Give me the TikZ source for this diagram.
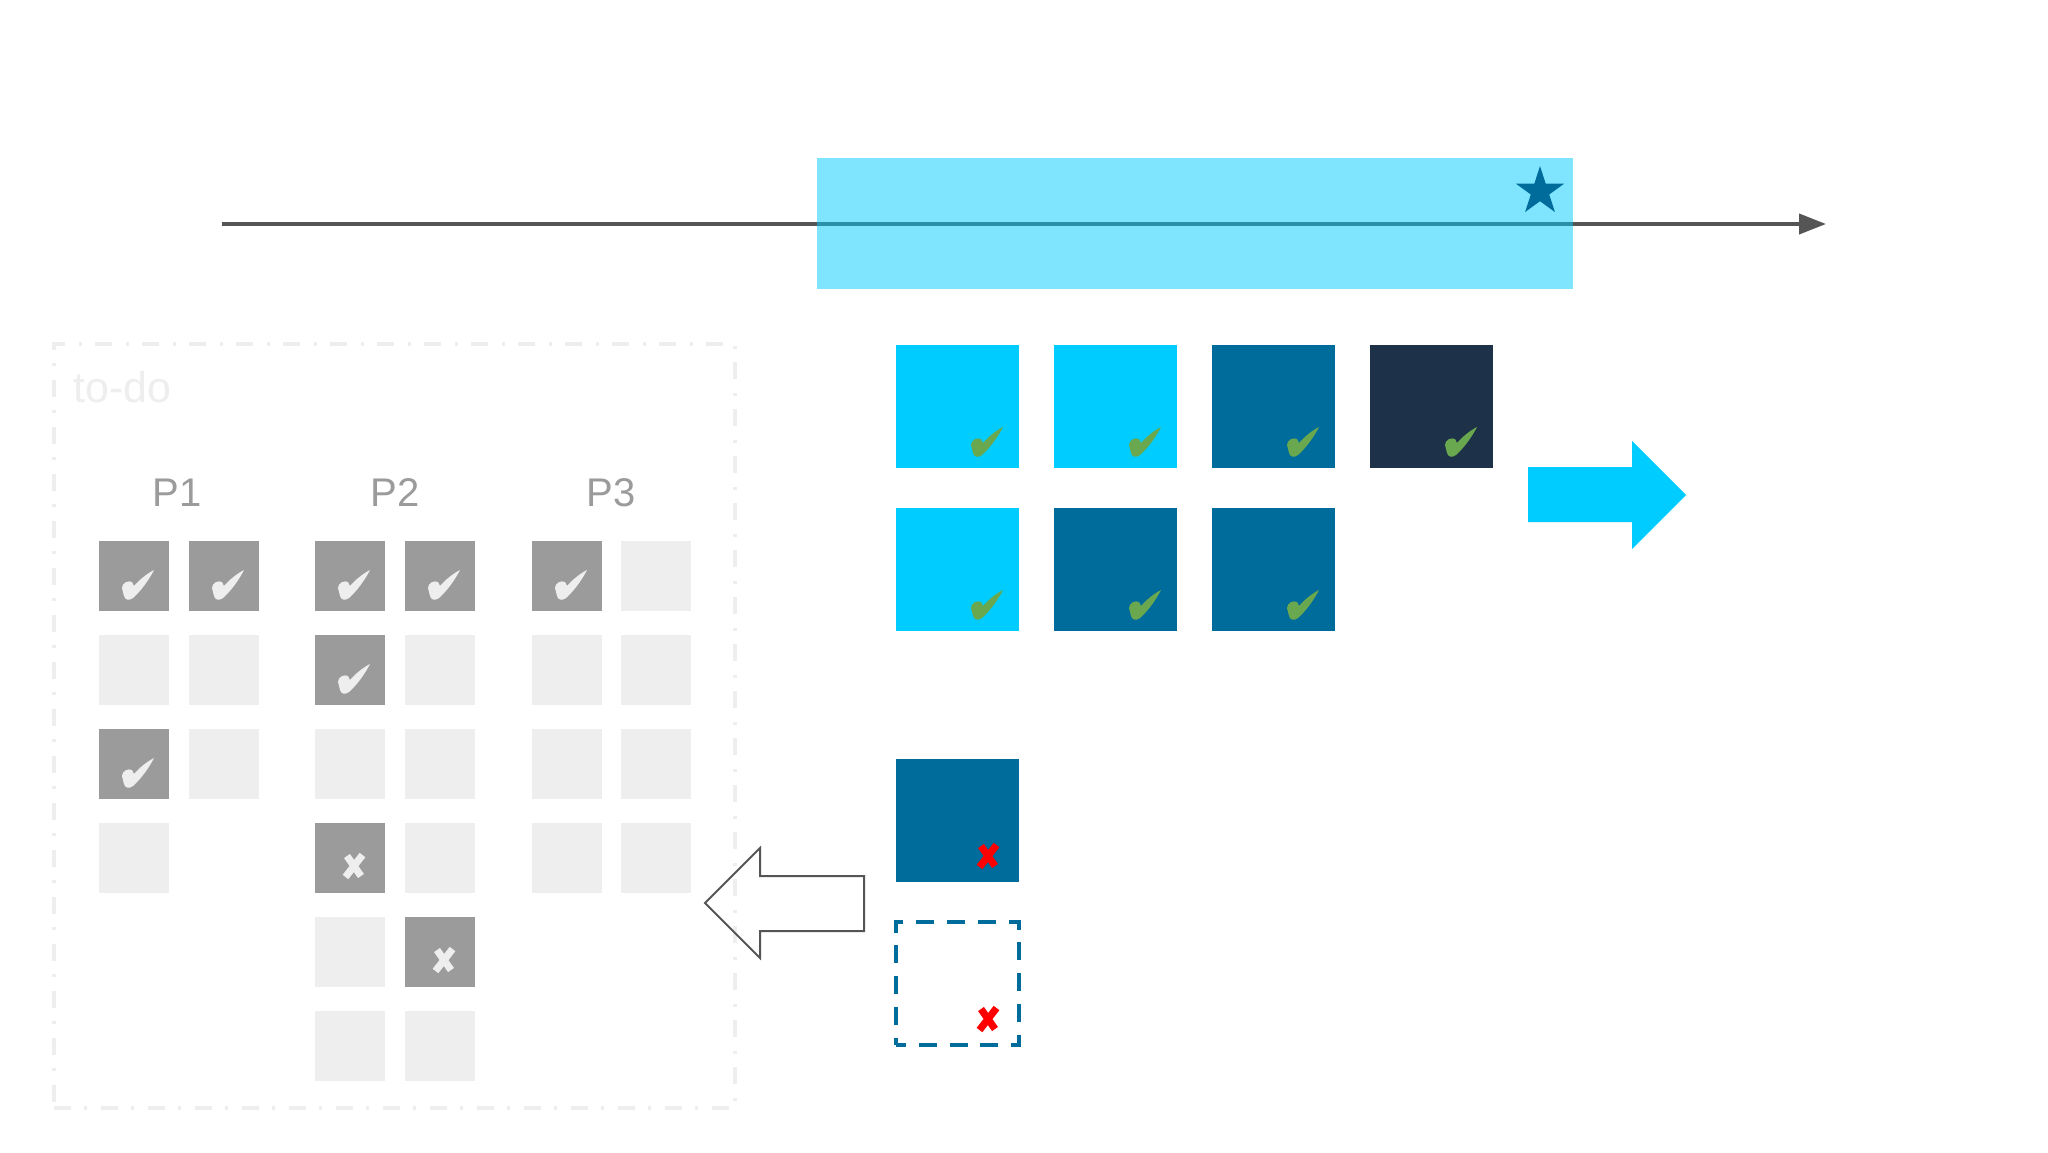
\documentclass[tikz,border=0pt]{standalone}
\usepackage{fontspec}
\setmainfont{Liberation Sans}
\usetikzlibrary{arrows.meta,shapes.geometric}
\definecolor{bright}{HTML}{00CCFF}
\definecolor{midblue}{HTML}{006C9B}
\definecolor{navy}{HTML}{1D3148}
\definecolor{okgreen}{HTML}{6AA84F}
\definecolor{axisgrey}{HTML}{555555}
\definecolor{doneg}{HTML}{9B9B9B}
\definecolor{emptyg}{HTML}{EEEEEE}
\definecolor{errred}{HTML}{FF0000}
\tikzset{
  x=0.5pt,y=-0.5pt,
  bigbox/.style={rectangle,minimum size=61.5pt,inner sep=0pt,outer sep=0pt,anchor=north west,fill=#1},
  smallbox/.style={rectangle,minimum size=35pt,inner sep=0pt,outer sep=0pt,anchor=north west,fill=#1},
  lab/.style={font=\fontsize{20}{24}\selectfont,inner sep=0pt,anchor=base},
  pics/chk/.style={code={
    \fill[#1] (0,18) .. controls (0,13) and (6,10) .. (10,12) .. controls (11,13) and (11,15) .. (12,16)
      .. controls (18,9) and (26,3) .. (32,0)
      .. controls (28,8) and (20,20) .. (11,28) .. controls (7,31) and (3,30) .. (2,26) -- cycle;
  }},
  pics/crs/.style={code={
    \draw[#1,line width=3.6pt] (-8.5,11) -- (8.5,-11) (-7,-10) -- (7,10);
  }}
}
\newcommand{\bigsq}[5]{% name x y colour mark
  \node[bigbox=#4] (#1) at (#2,#3) {};
  \ifx#5c\pic at (#2+75,#3+82) {chk=okgreen};\fi
  \ifx#5x\pic at (#2+92,#3+97) {crs=errred};\fi
}
\newcommand{\smsq}[5]{%
  \node[smallbox=#4] (#1) at (#2,#3) {};
  \ifx#5c\pic at (#2+23,#3+29) {chk=emptyg};\fi
  \ifx#5x\pic at (#2+39,#3+43) {crs=emptyg};\fi
}
\begin{document}
\begin{tikzpicture}
\useasboundingbox[fill=white] (0,0) rectangle (2048,1152);
% timeline
\coordinate (tlstart) at (222,224);
\coordinate (tlend) at (1826,224);
\draw[axisgrey,line width=2pt,-{Triangle[length=13.5pt,width=10pt]}] (tlstart) -- (tlend);
\node[rectangle,anchor=north west,inner sep=0pt,outer sep=0pt,minimum width=378pt,minimum height=65.5pt,fill=bright,fill opacity=.5] (band) at (817,158) {};
\node[star,star points=5,star point ratio=2.618,minimum size=25.4pt,inner sep=0pt,fill=midblue] (goal) at (1540,191.5) {};
% done items
\bigsq{a1}{896}{345}{bright}{c}
\bigsq{a2}{1054}{345}{bright}{c}
\bigsq{a3}{1212}{345}{midblue}{c}
\bigsq{a4}{1370}{345}{navy}{c}
\bigsq{b1}{896}{508}{bright}{c}
\bigsq{b2}{1054}{508}{midblue}{c}
\bigsq{b3}{1212}{508}{midblue}{c}
% right arrow
\fill[bright] (1528,467) -- (1632,467) -- (1632,441) -- (1686,495) -- (1632,549) -- (1632,522) -- (1528,522) -- cycle;
% rejected
\bigsq{r1}{896}{759}{midblue}{x}
\node[rectangle,minimum size=61.5pt,inner sep=0pt,outer sep=0pt,anchor=north west,draw=midblue,line width=2pt,dash pattern=on 9pt off 6.4pt,dash phase=4pt] (r2) at (896,922) {};
\pic at (988,1019) {crs=errred};
% todo panel
\node[rectangle,anchor=north west,inner sep=0pt,outer sep=0pt,minimum width=340.5pt,minimum height=382pt,draw=emptyg,line width=2pt,dash pattern=on 8.5pt off 6.5pt on 1.5pt off 7pt] (todo) at (54,344) {};
\node[lab,anchor=base west,text=emptyg,font=\fontsize{21.5}{24}\selectfont] (todolab) at (73,402) {to-do};
\node[lab,text=doneg] (p1) at (177,506) {P1};
\node[lab,text=doneg] (p2) at (395,506) {P2};
\node[lab,text=doneg] (p3) at (611,506) {P3};
% left arrow
\draw[axisgrey,line width=1pt,line join=miter] (864,876) -- (760,876) -- (760,848) -- (705,903) -- (760,958) -- (760,931) -- (864,931) -- cycle;
% P1
\smsq{s11}{99}{541}{doneg}{c}
\smsq{s12}{99}{635}{emptyg}{n}
\smsq{s13}{99}{729}{doneg}{c}
\smsq{s14}{99}{823}{emptyg}{n}
\smsq{s21}{189}{541}{doneg}{c}
\smsq{s22}{189}{635}{emptyg}{n}
\smsq{s23}{189}{729}{emptyg}{n}
% P2
\smsq{s31}{315}{541}{doneg}{c}
\smsq{s32}{315}{635}{doneg}{c}
\smsq{s33}{315}{729}{emptyg}{n}
\smsq{s34}{315}{823}{doneg}{x}
\smsq{s35}{315}{917}{emptyg}{n}
\smsq{s36}{315}{1011}{emptyg}{n}
\smsq{s41}{405}{541}{doneg}{c}
\smsq{s42}{405}{635}{emptyg}{n}
\smsq{s43}{405}{729}{emptyg}{n}
\smsq{s44}{405}{823}{emptyg}{n}
\smsq{s45}{405}{917}{doneg}{x}
\smsq{s46}{405}{1011}{emptyg}{n}
% P3
\smsq{s51}{532}{541}{doneg}{c}
\smsq{s52}{532}{635}{emptyg}{n}
\smsq{s53}{532}{729}{emptyg}{n}
\smsq{s54}{532}{823}{emptyg}{n}
\smsq{s61}{621}{541}{emptyg}{n}
\smsq{s62}{621}{635}{emptyg}{n}
\smsq{s63}{621}{729}{emptyg}{n}
\smsq{s64}{621}{823}{emptyg}{n}
\end{tikzpicture}
\end{document}
